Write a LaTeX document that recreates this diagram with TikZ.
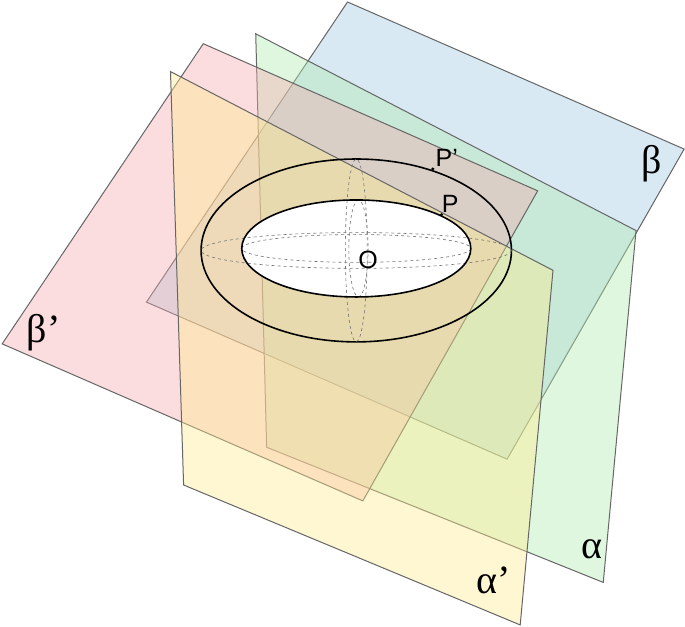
\documentclass[tikz,border=0pt]{standalone}
\usepackage{fontspec}
\setmainfont{Liberation Serif}
\setsansfont{Liberation Sans}
\begin{document}
\begin{tikzpicture}[x=0.4371pt,y=-0.3975pt,
  plane/.style={draw=black!60,line width=1pt,fill opacity=0.4},
  greek/.style={font=\fontsize{40}{40}\selectfont},
  pt/.style={font=\sffamily\fontsize{25}{25}\selectfont},
  dsh/.style={dashed,draw=black!55,line width=0.6pt}]
\useasboundingbox (0,0) rectangle (1567,1575);
\fill[white] (0,0) rectangle (1567,1575);
\path[plane,fill={rgb,255:red,160;green,200;blue,225}] (795,5) -- (1565,375) -- (1160,1155) -- (335,760) -- cycle;
\path[plane,fill={rgb,255:red,175;green,235;blue,175}] (585,85) -- (1455,580) -- (1380,1465) -- (610,1125) -- cycle;
\path[plane,fill={rgb,255:red,245;green,170;blue,175}] (465,110) -- (1230,480) -- (830,1260) -- (5,865) -- cycle;
\path[plane,fill={rgb,255:red,255;green,235;blue,140}] (390,180) -- (1265,680) -- (1190,1572) -- (420,1220) -- cycle;
\draw[line width=1.6pt] (815,630) ellipse [x radius=355,y radius=230];
\fill[white] (815,625) ellipse [x radius=262,y radius=122];
\draw[dsh] (815,630) ellipse [x radius=355,y radius=45];
\draw[dsh] (815,625) ellipse [x radius=262,y radius=35];
\draw[dsh] (815,630) ellipse [x radius=25,y radius=230];
\draw[dsh] (820,625) ellipse [x radius=22,y radius=122];
\draw[line width=1.6pt] (815,625) ellipse [x radius=262,y radius=122];
\fill (990,425) circle (4);
\fill (1010,540) circle (4);
\node[pt] (Pp) at (1022,398) {P’};
\node[pt] (P) at (1030,512) {P};
\node[pt] (O) at (842,655) {O};
\node[greek] (b) at (1490,412) {β};
\node[greek] (bp) at (100,838) {β’};
\node[greek] (a) at (1355,1382) {α};
\node[greek] (ap) at (1130,1460) {α’};
\end{tikzpicture}
\end{document}
